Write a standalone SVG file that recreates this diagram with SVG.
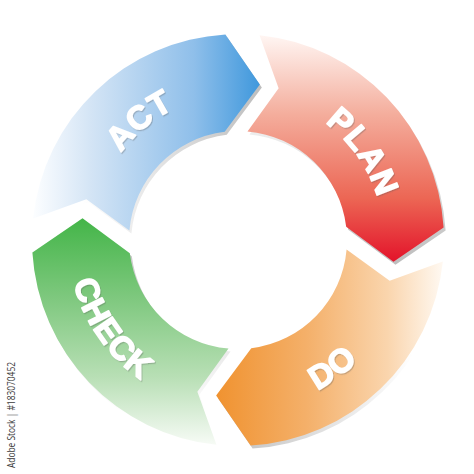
<svg xmlns="http://www.w3.org/2000/svg" width="474" height="474" viewBox="0 0 474 474">
  <defs>
    <linearGradient id="gAct" gradientUnits="userSpaceOnUse" x1="35" y1="0" x2="262" y2="0">
      <stop offset="0" stop-color="#fbfdff"/>
      <stop offset="0.25" stop-color="#d3e4f5"/>
      <stop offset="0.7" stop-color="#8fbfea"/>
      <stop offset="1" stop-color="#3d97dc"/>
    </linearGradient>
    <linearGradient id="gPlan" gradientUnits="userSpaceOnUse" x1="0" y1="35" x2="0" y2="262">
      <stop offset="0" stop-color="#fff6f3"/>
      <stop offset="0.35" stop-color="#f4ad9c"/>
      <stop offset="0.72" stop-color="#ec6654"/>
      <stop offset="1" stop-color="#e3132a"/>
    </linearGradient>
    <linearGradient id="gDo" gradientUnits="userSpaceOnUse" x1="215" y1="0" x2="445" y2="0">
      <stop offset="0" stop-color="#f0922f"/>
      <stop offset="0.4" stop-color="#f4b06a"/>
      <stop offset="0.75" stop-color="#fad5ad"/>
      <stop offset="1" stop-color="#fffaf4"/>
    </linearGradient>
    <linearGradient id="gCheck" gradientUnits="userSpaceOnUse" x1="0" y1="218" x2="0" y2="445">
      <stop offset="0" stop-color="#43b548"/>
      <stop offset="0.35" stop-color="#7ec87e"/>
      <stop offset="0.7" stop-color="#b8dfb5"/>
      <stop offset="1" stop-color="#f7fbf6"/>
    </linearGradient>
    <linearGradient id="sAct" gradientUnits="userSpaceOnUse" x1="35" y1="0" x2="262" y2="0">
      <stop offset="0.2" stop-color="#bdbdbd" stop-opacity="0"/>
      <stop offset="1" stop-color="#bdbdbd" stop-opacity="1"/>
    </linearGradient>
    <linearGradient id="sPlan" gradientUnits="userSpaceOnUse" x1="0" y1="35" x2="0" y2="262">
      <stop offset="0.2" stop-color="#bdbdbd" stop-opacity="0"/>
      <stop offset="1" stop-color="#bdbdbd" stop-opacity="1"/>
    </linearGradient>
    <linearGradient id="sDo" gradientUnits="userSpaceOnUse" x1="215" y1="0" x2="445" y2="0">
      <stop offset="0" stop-color="#bdbdbd" stop-opacity="1"/>
      <stop offset="0.85" stop-color="#bdbdbd" stop-opacity="0"/>
    </linearGradient>
    <linearGradient id="sCheck" gradientUnits="userSpaceOnUse" x1="0" y1="218" x2="0" y2="445">
      <stop offset="0" stop-color="#bdbdbd" stop-opacity="1"/>
      <stop offset="0.85" stop-color="#bdbdbd" stop-opacity="0"/>
    </linearGradient>
    <filter id="txtShadow" x="-20%" y="-20%" width="140%" height="140%">
      <feDropShadow dx="1" dy="1.2" stdDeviation="0.7" flood-color="#555" flood-opacity="0.3"/>
    </filter>
    <path id="pAct" d="M 94.0 264.1 A 146 146 0 0 1 289.13 103.25"/>
    <path id="pPlan" d="M 225.27 94.56 A 146 146 0 0 1 370.32 301.70"/>
    <path id="pDo" d="M 170.21 395.90 A 170 170 0 0 0 406.91 220.76"/>
    <path id="pCheck" d="M 83.93 168.15 A 170 170 0 0 0 252.82 409.35"/>
  </defs>
  <style>
    .lbl { font-family: "Liberation Sans", Arial, sans-serif; font-weight: 700; font-size: 33px; fill: #ffffff; stroke: #ffffff; stroke-width: 1.5; stroke-linejoin: round; letter-spacing: 1px; filter: url(#txtShadow); }
    .shadow { stroke: none; }
    .wm { font-family: "Open Sans", "Liberation Sans", sans-serif; font-size: 10.5px; fill: #3a3a3a; }
  </style>
  <rect width="474" height="474" fill="#ffffff"/>

  <g id="node-act">
    <path class="shadow" fill="url(#sAct)" transform="translate(2,3)" d="M 33.13 218.47 A 206 206 0 0 1 225.42 34.38 L 259.85 84.53 L 224.72 131.81 A 109 109 0 0 0 129.41 230.50 L 86.35 199.37 Z"/>
    <path fill="url(#gAct)" d="M 33.13 218.47 A 206 206 0 0 1 225.42 34.38 L 259.85 84.53 L 224.72 131.81 A 109 109 0 0 0 129.41 230.50 L 86.35 199.37 Z"/>
    <text class="lbl"><textPath href="#pAct" startOffset="50%" text-anchor="middle">ACT</textPath></text>
  </g>

  <g id="node-plan">
    <path class="shadow" fill="url(#sPlan)" transform="translate(2,3)" d="M 259.53 35.13 A 206 206 0 0 1 443.62 227.42 L 393.47 261.85 L 346.19 226.72 A 109 109 0 0 0 247.50 131.41 L 278.63 88.35 Z"/>
    <path fill="url(#gPlan)" d="M 259.53 35.13 A 206 206 0 0 1 443.62 227.42 L 393.47 261.85 L 346.19 226.72 A 109 109 0 0 0 247.50 131.41 L 278.63 88.35 Z"/>
    <text class="lbl"><textPath href="#pPlan" startOffset="50%" text-anchor="middle">PLAN</textPath></text>
  </g>

  <g id="node-do">
    <path class="shadow" fill="url(#sDo)" transform="translate(2,3)" d="M 442.87 261.53 A 206 206 0 0 1 250.58 445.62 L 216.15 395.47 L 251.28 348.19 A 109 109 0 0 0 346.59 249.50 L 389.65 280.63 Z"/>
    <path fill="url(#gDo)" d="M 442.87 261.53 A 206 206 0 0 1 250.58 445.62 L 216.15 395.47 L 251.28 348.19 A 109 109 0 0 0 346.59 249.50 L 389.65 280.63 Z"/>
    <text class="lbl"><textPath href="#pDo" startOffset="50%" text-anchor="middle">DO</textPath></text>
  </g>

  <g id="node-check">
    <path class="shadow" fill="url(#sCheck)" transform="translate(2,3)" d="M 216.47 444.87 A 206 206 0 0 1 32.38 252.58 L 82.53 218.15 L 129.81 253.28 A 109 109 0 0 0 228.50 348.59 L 197.37 391.65 Z"/>
    <path fill="url(#gCheck)" d="M 216.47 444.87 A 206 206 0 0 1 32.38 252.58 L 82.53 218.15 L 129.81 253.28 A 109 109 0 0 0 228.50 348.59 L 197.37 391.65 Z"/>
    <text class="lbl"><textPath href="#pCheck" startOffset="50%" text-anchor="middle">CHECK</textPath></text>
  </g>

  <g id="connectors"/>

  <text class="wm" transform="translate(15,468) rotate(-90)" textLength="106" lengthAdjust="spacingAndGlyphs">Adobe Stock | #183070452</text>
</svg>
